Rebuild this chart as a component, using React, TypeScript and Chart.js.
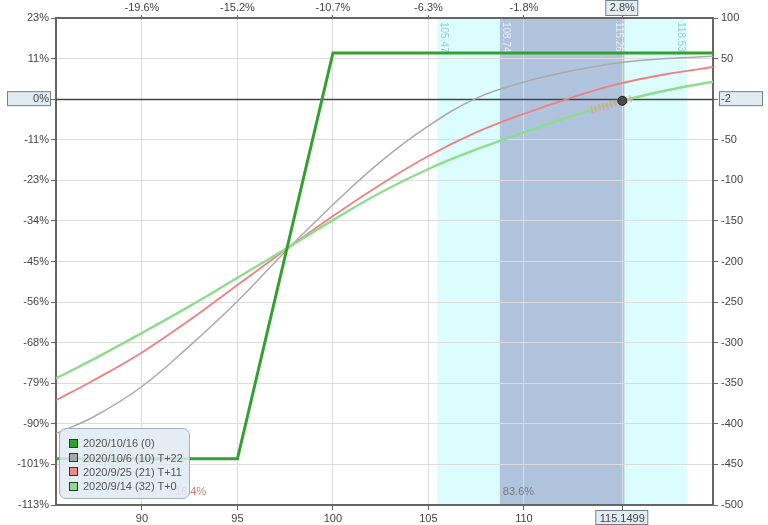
import React, { useEffect, useRef } from 'react';
import { Chart, registerables } from 'chart.js';

Chart.register(...registerables);

// underlying price grid and P/L curves
const priceX = [85.5, 87.5, 90, 92.5, 95, 97.5, 100, 102.5, 105, 107.5, 110, 112.5, 115, 117.5, 120];
const pnlT22 = [-412, -391, -354, -304, -249, -188, -130, -77, -33, 1, 21, 35, 45, 50, 53];
const pnlT11 = [-371, -346, -312, -272, -229, -186, -144, -105, -70, -41, -18, 2, 19, 31, 40];
const pnlT0 = [-344, -320, -288, -255, -220, -185, -149, -115, -86, -62, -41, -21, -3, 11, 22];

// expiration payoff
const expiryX = [85.5, 95, 100, 120];
const expiryPnl = [-443, -443, 57, 57];

// red hatch near the current position
const hatchX = [113.5, 114.4, 115.15, 115.7];
const hatchPnl = [-13, -8, -2, 1];

const currentPrice = 115.1499;
const currentPnl = -2;

const bottomTicks = [90, 95, 100, 105, 110, 115.1499];
const bottomTickLabels = ['90', '95', '100', '105', '110', '115.1499'];
const topTickLabels = ['-19.6%', '-15.2%', '-10.7%', '-6.3%', '-1.8%', '2.8%'];

const yTicks = [100, 50, 0, -50, -100, -150, -200, -250, -300, -350, -400, -450, -500];
const leftTickLabels = ['23%', '11%', '0%', '-11%', '-23%', '-34%', '-45%', '-56%', '-68%', '-79%', '-90%', '-101%', '-113%'];
const rightTickLabels = ['100', '50', '-2', '-50', '-100', '-150', '-200', '-250', '-300', '-350', '-400', '-450', '-500'];

const outerBand = [105.47, 118.53];
const innerBand = [108.74, 115.26];
const bandLabels = ['105.47', '108.74', '115.26', '118.53'];
const probLabels = ['16.4%', '83.6%'];

const seriesLabels = ['2020/10/16 (0)', '2020/10/6 (10) T+22', '2020/9/25 (21) T+11', '2020/9/14 (32) T+0'];
const seriesColors = ['#34a030', '#a8a8a8', '#f08a8a', '#8fdc8f'];

const FONT = '"Liberation Sans", Arial, sans-serif';

const toPoints = (xs: number[], ys: number[]) => xs.map((x, i) => ({ x, y: ys[i] }));

const boxFill = '#e0ecf2';
const boxStroke = '#6f808c';

const decorPlugin = {
    id: 'decor',
    beforeDraw(chart: any) {
        const { ctx, chartArea: a, scales } = chart;
        const x = scales.x;
        const y = scales.y;
        ctx.save();
        // probability bands
        ctx.fillStyle = '#dcfdfd';
        ctx.fillRect(x.getPixelForValue(outerBand[0]), a.top, x.getPixelForValue(outerBand[1]) - x.getPixelForValue(outerBand[0]), a.bottom - a.top);
        ctx.fillStyle = '#b0c4de';
        ctx.fillRect(x.getPixelForValue(innerBand[0]), a.top, x.getPixelForValue(innerBand[1]) - x.getPixelForValue(innerBand[0]), a.bottom - a.top);

        // label boxes on the axes
        const y0 = y.getPixelForValue(0);
        const cx = x.getPixelForValue(currentPrice);
        ctx.fillStyle = boxFill;
        ctx.strokeStyle = boxStroke;
        ctx.lineWidth = 1;
        const rects = [
            [7.5, y0 - 7.5, a.left - 13, 14],
            [a.right + 6.5, y0 - 7.5, 43, 14],
            [cx - 16.5, 0.5, 32, 15],
            [cx - 26.5, a.bottom + 5.5, 52, 14],
        ];
        rects.forEach(([rx, ry, rw, rh]) => {
            ctx.fillRect(rx, ry, rw, rh);
            ctx.strokeRect(rx, ry, rw, rh);
        });
        ctx.restore();
    },
    beforeDatasetsDraw(chart: any) {
        const { ctx, chartArea: a, scales } = chart;
        const x = scales.x;
        const y = scales.y;
        ctx.save();
        // band edge labels, vertical
        const edges = [outerBand[0], innerBand[0], innerBand[1], outerBand[1]];
        ctx.font = `10px ${FONT}`;
        ctx.textBaseline = 'middle';
        ctx.textAlign = 'left';
        edges.forEach((v, i) => {
            const px = x.getPixelForValue(v) + (i < 2 ? 6 : -6);
            ctx.save();
            ctx.translate(px, a.top + 4);
            ctx.rotate(Math.PI / 2);
            ctx.fillStyle = i === 0 || i === 3 ? '#9cc8dc' : '#e4ecf4';
            ctx.fillText(bandLabels[i], 0, 0);
            ctx.restore();
        });
        // zero line
        const y0 = Math.round(y.getPixelForValue(0)) + 0.5;
        ctx.strokeStyle = '#444';
        ctx.lineWidth = 1.4;
        ctx.beginPath();
        ctx.moveTo(a.left, y0);
        ctx.lineTo(a.right, y0);
        ctx.stroke();
        // probability texts
        ctx.font = `11px ${FONT}`;
        ctx.textBaseline = 'middle';
        ctx.fillStyle = '#e07878';
        ctx.fillText(probLabels[0], a.left + 119, a.bottom - 13);
        ctx.fillStyle = '#7a7a7a';
        ctx.fillText(probLabels[1], x.getPixelForValue(innerBand[0]) + 3, a.bottom - 13);
        ctx.restore();
    },
};

const App: React.FC = () => {
    const canvasRef = useRef<HTMLCanvasElement | null>(null);

    useEffect(() => {
        document.body.style.margin = '0';
        if (!canvasRef.current) return;
        const ctx = canvasRef.current.getContext('2d');
        if (!ctx) return;

        const tickFont = { family: FONT, size: 11 };
        const xTicks = (s: any) => { s.ticks = bottomTicks.map(v => ({ value: v })); };
        const yTickBuild = (s: any) => { s.ticks = yTicks.map(v => ({ value: v })); };

        const chart = new Chart(ctx, {
            type: 'line',
            data: {
                datasets: [
                    {
                        label: seriesLabels[0],
                        data: toPoints(expiryX, expiryPnl),
                        borderColor: seriesColors[0],
                        borderWidth: 3,
                        tension: 0,
                        pointRadius: 0,
                        order: 1,
                    },
                    {
                        label: seriesLabels[1],
                        data: toPoints(priceX, pnlT22),
                        borderColor: '#aaaaaa',
                        borderWidth: 1.5,
                        tension: 0.4,
                        pointRadius: 0,
                        order: 4,
                    },
                    {
                        label: seriesLabels[2],
                        data: toPoints(priceX, pnlT11),
                        borderColor: '#f08080',
                        borderWidth: 1.8,
                        tension: 0.4,
                        pointRadius: 0,
                        order: 3,
                    },
                    {
                        label: seriesLabels[3],
                        data: toPoints(priceX, pnlT0),
                        borderColor: '#8edc8e',
                        borderWidth: 2.4,
                        tension: 0.4,
                        pointRadius: 0,
                        order: 2,
                    },
                    {
                        label: 'hatch',
                        data: toPoints(hatchX, hatchPnl),
                        borderColor: 'rgba(244,140,140,0.6)',
                        borderWidth: 7,
                        borderDash: [2, 2],
                        pointRadius: 0,
                        order: 0.5,
                    },
                    {
                        label: 'current',
                        data: [{ x: currentPrice, y: currentPnl }],
                        showLine: false,
                        pointRadius: 4.5,
                        pointBackgroundColor: '#4a4a4a',
                        pointBorderColor: '#222222',
                        pointBorderWidth: 1,
                        order: 0,
                    },
                ],
            },
            options: {
                responsive: false,
                animation: false,
                layout: { padding: 0 },
                plugins: {
                    legend: { display: false },
                    tooltip: { enabled: false },
                },
                scales: {
                    x: {
                        type: 'linear',
                        position: 'bottom',
                        min: 85.5,
                        max: 119.9,
                        afterBuildTicks: xTicks,
                        afterFit: (s: any) => { s.height = 20; },
                        grid: { color: '#dcdcdc', tickColor: '#666', tickLength: 5 },
                        border: { color: '#666', width: 2 },
                        ticks: {
                            callback: (_v: any, i: number) => bottomTickLabels[i],
                            color: '#444',
                            font: tickFont,
                            padding: 2,
                            maxRotation: 0,
                            autoSkip: false,
                        },
                    },
                    x2: {
                        type: 'linear',
                        position: 'top',
                        min: 85.5,
                        max: 119.9,
                        afterBuildTicks: xTicks,
                        afterFit: (s: any) => { s.height = 18; },
                        grid: { drawOnChartArea: false, tickColor: '#666', tickLength: 3 },
                        border: { color: '#666', width: 2 },
                        ticks: {
                            callback: (_v: any, i: number) => topTickLabels[i],
                            color: '#444',
                            font: tickFont,
                            padding: 0,
                            maxRotation: 0,
                            autoSkip: false,
                        },
                    },
                    y: {
                        position: 'left',
                        min: -500,
                        max: 100,
                        afterBuildTicks: yTickBuild,
                        afterFit: (s: any) => { s.width = 56; },
                        grid: { color: '#dcdcdc', tickColor: '#666', tickLength: 5 },
                        border: { color: '#666', width: 2 },
                        ticks: {
                            callback: (v: any) => leftTickLabels[yTicks.indexOf(Number(v))],
                            color: '#444',
                            font: tickFont,
                            padding: 2,
                            autoSkip: false,
                        },
                    },
                    y2: {
                        position: 'right',
                        min: -500,
                        max: 100,
                        afterBuildTicks: yTickBuild,
                        afterFit: (s: any) => { s.width = 55; },
                        grid: { drawOnChartArea: false, tickColor: '#666', tickLength: 5 },
                        border: { color: '#666', width: 2 },
                        ticks: {
                            callback: (v: any) => rightTickLabels[yTicks.indexOf(Number(v))],
                            color: '#444',
                            font: tickFont,
                            padding: 3,
                            autoSkip: false,
                        },
                    },
                },
            } as any,
            plugins: [decorPlugin],
        });
        return () => chart.destroy();
    }, []);

    return (
        <div style={{ position: 'absolute', left: 0, top: 0, width: 768, height: 525, background: '#fff' }}>
            <canvas ref={canvasRef} width={768} height={525} style={{ display: 'block' }} />
            <div
                style={{
                    position: 'absolute', left: 59, top: 428, width: 131, height: 71,
                    background: 'rgba(222,234,241,0.86)', border: '1px solid #a0b0bc', borderRadius: 7,
                    boxSizing: 'border-box', padding: '7px 0 0 9px',
                    fontFamily: FONT, fontSize: 11, color: '#555',
                }}
            >
                {seriesLabels.map((label, i) => (
                    <div key={label} style={{ display: 'flex', alignItems: 'center', height: 14.4, whiteSpace: 'nowrap' }}>
                        <span style={{ display: 'inline-block', width: 7, height: 7, border: '1px solid #333', background: seriesColors[i], marginRight: 5 }} />
                        {label}
                    </div>
                ))}
            </div>
        </div>
    );
};

export default App;
